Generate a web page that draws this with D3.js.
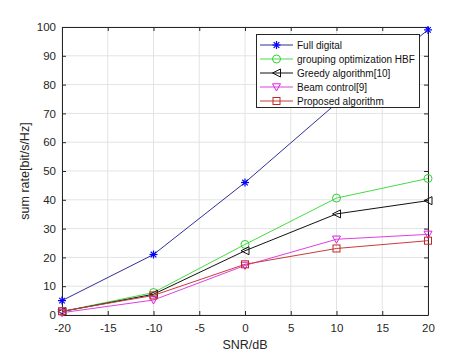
<!DOCTYPE html>
<html><head><meta charset="utf-8">
<script src="https://cdn.jsdelivr.net/npm/d3@7"></script>
<style>body{margin:0;background:#fff}svg{display:block}text{font-family:"Liberation Sans",Arial,sans-serif}</style>
</head><body><svg id="c" width="474" height="355"></svg>
<script>
const snr = [-20, -10, 0, 10, 20];
const fullDigital = [5, 21, 46, 73.5, 99];
const groupingHBF = [1.2, 7.8, 24.5, 40.6, 47.4];
const greedy = [1.2, 7.2, 22.3, 35.1, 39.7];
const beamControl = [0.8, 5.2, 17.2, 26.3, 28.0];
const proposed = [1.3, 6.8, 17.6, 23.1, 25.8];
const seriesNames = ["Full digital", "grouping optimization HBF", "Greedy algorithm[10]", "Beam control[9]", "Proposed algorithm"];
const xTicks = [-20, -15, -10, -5, 0, 5, 10, 15, 20];
const yTicks = [0, 10, 20, 30, 40, 50, 60, 70, 80, 90, 100];

const series = [
  {name: seriesNames[0], vals: fullDigital, line: "#2f2f9a", mk: "#0000ff", shape: "star"},
  {name: seriesNames[1], vals: groupingHBF, line: "#44dd44", mk: "#33cc33", shape: "circle"},
  {name: seriesNames[2], vals: greedy, line: "#111111", mk: "#111111", shape: "triLeft"},
  {name: seriesNames[3], vals: beamControl, line: "#e040e0", mk: "#e020e0", shape: "triDown"},
  {name: seriesNames[4], vals: proposed, line: "#c83c3c", mk: "#c02828", shape: "square"}
];

const svg = d3.select("#c");
const L = 62, T = 27, R = 428, B = 315;
const x = d3.scaleLinear().domain([-20, 20]).range([L, R]);
const y = d3.scaleLinear().domain([0, 100]).range([B, T]);

// grid
const g = svg.append("g");
g.selectAll(".gx").data(xTicks).enter().append("line")
  .attr("x1", d => x(d)).attr("x2", d => x(d)).attr("y1", T).attr("y2", B)
  .attr("stroke", "#e3e3e3").attr("stroke-width", 1);
g.selectAll(".gy").data(yTicks).enter().append("line")
  .attr("y1", d => y(d)).attr("y2", d => y(d)).attr("x1", L).attr("x2", R)
  .attr("stroke", "#e3e3e3").attr("stroke-width", 1);

// axes
const ax = "#262626";
const fmt = d => String(d);
const xb = svg.append("g").attr("transform", `translate(0,${B})`)
  .call(d3.axisBottom(x).tickValues(xTicks).tickFormat(fmt).tickSizeInner(-4).tickSizeOuter(0).tickPadding(9));
const xt = svg.append("g").attr("transform", `translate(0,${T})`)
  .call(d3.axisTop(x).tickValues(xTicks).tickSizeInner(-4).tickSizeOuter(0).tickFormat(""));
const yl = svg.append("g").attr("transform", `translate(${L},0)`)
  .call(d3.axisLeft(y).tickValues(yTicks).tickFormat(fmt).tickSizeInner(-4).tickSizeOuter(0).tickPadding(6));
const yr = svg.append("g").attr("transform", `translate(${R},0)`)
  .call(d3.axisRight(y).tickValues(yTicks).tickSizeInner(-4).tickSizeOuter(0).tickFormat(""));
[xb, xt, yl, yr].forEach(a => {
  a.selectAll("path").attr("stroke", ax).attr("stroke-width", 1);
  a.selectAll("line").attr("stroke", ax);
  a.selectAll("text").attr("fill", "#262626").style("font-size", "11.5px").style("font-family", "Liberation Sans, Arial, sans-serif");
});

// markers
function marker(sel, shape, color, cx, cy) {
  const s = 4;
  if (shape === "star") {
    const p = sel.append("g").attr("stroke", color).attr("stroke-width", 1.2);
    [[-s,0,s,0],[0,-s,0,s],[-s*0.7,-s*0.7,s*0.7,s*0.7],[-s*0.7,s*0.7,s*0.7,-s*0.7]].forEach(l =>
      p.append("line").attr("x1", cx+l[0]).attr("y1", cy+l[1]).attr("x2", cx+l[2]).attr("y2", cy+l[3]));
  } else if (shape === "circle") {
    sel.append("circle").attr("cx", cx).attr("cy", cy).attr("r", s).attr("fill", "none").attr("stroke", color);
  } else if (shape === "triLeft") {
    sel.append("path").attr("d", `M${cx-s},${cy}L${cx+s},${cy-s}L${cx+s},${cy+s}Z`).attr("fill", "none").attr("stroke", color);
  } else if (shape === "triDown") {
    sel.append("path").attr("d", `M${cx-s},${cy-s*0.8}L${cx+s},${cy-s*0.8}L${cx},${cy+s}Z`).attr("fill", "none").attr("stroke", color);
  } else if (shape === "square") {
    sel.append("rect").attr("x", cx-3.5).attr("y", cy-3.5).attr("width", 7).attr("height", 7).attr("fill", "none").attr("stroke", color);
  }
}

const line = d3.line().x((d, i) => x(snr[i])).y(d => y(d));
series.forEach(s => {
  svg.append("path").datum(s.vals).attr("d", line).attr("fill", "none")
    .attr("stroke", s.line).attr("stroke-width", 1);
  const mg = svg.append("g");
  s.vals.forEach((v, i) => marker(mg, s.shape, s.mk, x(snr[i]), y(v)));
});

// legend
const lg = svg.append("g");
lg.append("rect").attr("x", 256.5).attr("y", 34.5).attr("width", 163).attr("height", 73)
  .attr("fill", "#fff").attr("stroke", "#262626").attr("stroke-width", 1);
series.forEach((s, i) => {
  const yy = 45 + i * 14;
  lg.append("line").attr("x1", 260).attr("x2", 293).attr("y1", yy).attr("y2", yy)
    .attr("stroke", s.line).attr("stroke-width", 1);
  marker(lg, s.shape, s.mk, 276.5, yy);
  lg.append("text").attr("x", 297).attr("y", yy + 3.6).text(s.name)
    .attr("fill", "#111").style("font-size", "10px");
});

// axis labels
svg.append("text").attr("x", x(0)).attr("y", 349).attr("text-anchor", "middle")
  .style("font-size", "12.5px").attr("fill", "#262626").text("SNR/dB");
svg.append("text").attr("transform", `translate(29,${(T+B)/2}) rotate(-90)`).attr("text-anchor", "middle")
  .style("font-size", "12.5px").attr("fill", "#262626").text("sum rate[bit/s/Hz]");
</script></body></html>
